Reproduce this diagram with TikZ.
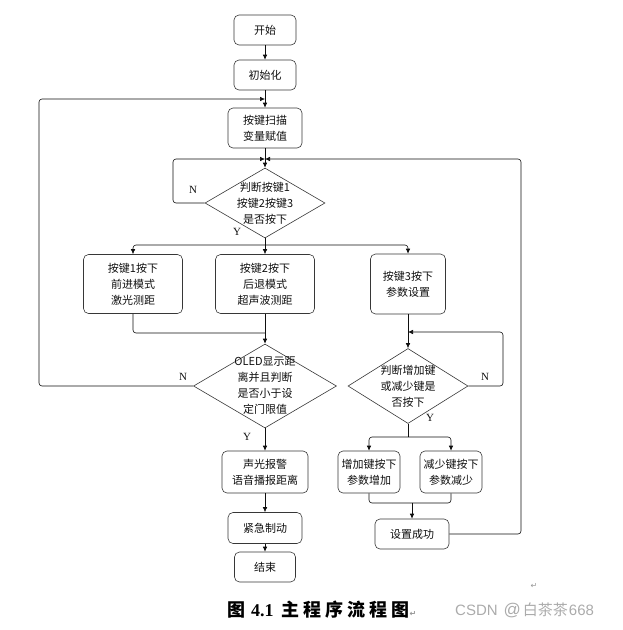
\documentclass[tikz,border=0pt]{standalone}
\usepackage{fontspec}
\setmainfont{Liberation Serif}
\newfontfamily\cjk{Noto Sans CJK SC}
\newfontfamily\wmfont{Liberation Sans}
\newfontfamily\symfont{DejaVu Sans}
\usetikzlibrary{shapes.geometric,arrows.meta}

\begin{document}
\begin{tikzpicture}[x=1pt,y=-1pt,
	box/.style={draw=boxgray, line width=0.6pt, rounded corners=5pt, inner sep=0, align=center, text=txtblack, font=\cjk\fontsize{11}{16}\selectfont},
	decision/.style={diamond, draw=boxgray, line width=0.6pt, inner sep=0},
	dtext/.style={align=center, inner sep=0, text=txtblack, font=\cjk\fontsize{11}{16}\selectfont},
	yn/.style={text=txtblack, font=\fontsize{11}{12}\selectfont},
	line/.style={draw=txtblack, line width=0.6pt, rounded corners=3pt},
	arrow/.style={line, -{Latex[length=5pt,width=4.5pt]}}]
	\definecolor{boxgray}{RGB}{55,55,55}
	\definecolor{txtblack}{RGB}{15,15,15}
	\definecolor{markgray}{RGB}{150,150,150}

	\useasboundingbox (0,0) rectangle (622,630);

	% main column
	\node[box, minimum width=62, minimum height=30] (start) at (265,30) {开始};
	\node[box, minimum width=62, minimum height=30] (init) at (265,75) {初始化};
	\node[box, minimum width=74, minimum height=40] (scan) at (265,128) {按键扫描\\变量赋值};
	\node[decision, minimum width=120, minimum height=70,
		label={[dtext]center:判断按键1\\按键2按键3\\是否按下}] (d1) at (265,203) {};

	\node[box, minimum width=99, minimum height=59] (k1) at (133,284) {按键1按下\\前进模式\\激光测距};
	\node[box, minimum width=99, minimum height=59] (k2) at (265,284) {按键2按下\\后退模式\\超声波测距};
	\node[box, minimum width=75, minimum height=60] (k3) at (408,284) {按键3按下\\参数设置};

	\node[decision, minimum width=143, minimum height=84,
		label={[dtext]center:OLED显示距\\离并且判断\\是否小于设\\定门限值}] (d2) at (265,386) {};
	\node[box, minimum width=86, minimum height=42] (alarm) at (265,472) {声光报警\\语音播报距离};
	\node[box, minimum width=74, minimum height=31] (brake) at (265,528) {紧急制动};
	\node[box, minimum width=61, minimum height=30] (stop) at (265,567) {结束};

	% parameter column
	\node[decision, minimum width=120, minimum height=75,
		label={[dtext]center:判断增加键\\或减少键是\\否按下}] (d3) at (408,386) {};
	\node[box, minimum width=62, minimum height=42] (inc) at (369,472) {增加键按下\\参数增加};
	\node[box, minimum width=62, minimum height=42] (dec) at (451,472) {减少键按下\\参数减少};
	\node[box, minimum width=74, minimum height=30] (done) at (412,534) {设置成功};

	% junctions
	\coordinate (top) at (265,99);
	\coordinate (jn) at (265,159);
	\coordinate (b1) at (265,245);
	\coordinate (m1) at (265,333);
	\coordinate (n1) at (173,159);
	\coordinate (l1) at (39,99);
	\coordinate (r1) at (521,159);
	\coordinate (r3) at (503,332);
	\coordinate (t3) at (408,332);
	\coordinate (b3) at (408,437);
	\coordinate (m3) at (412,503);

	\draw[arrow] (start) -- (init);
	\draw[arrow] (init) -- (scan);
	\draw[arrow] (scan) -- (d1);
	\draw[arrow] (d1.west) -| (n1) -- (jn);
	\draw[line] (d1.south) -- (b1);
	\draw[arrow] (b1) -| (k1.north);
	\draw[arrow] (b1) -- (k2);
	\draw[arrow] (b1) -| (k3.north);

	\draw[line] (k1.south) |- (m1);
	\draw[arrow] (k2) -- (d2);
	\draw[arrow] (d2.west) -| (l1) -- (top);
	\draw[arrow] (d2) -- (alarm);
	\draw[arrow] (alarm) -- (brake);
	\draw[arrow] (brake) -- (stop);

	\draw[arrow] (k3) -- (d3);
	\draw[arrow] (d3.east) -| (r3) -- (t3);
	\draw[line] (d3.south) -- (b3);
	\draw[arrow] (b3) -| (inc.north);
	\draw[arrow] (b3) -| (dec.north);
	\draw[line] (inc.south) |- (m3);
	\draw[line] (dec.south) |- (m3);
	\draw[arrow] (m3) -- (done);
	\draw[arrow] (done.east) -| (r1) -- (jn);

	% Y / N labels
	\node[yn] (n1lab) at (193,190) {N};
	\node[yn] (y1lab) at (237,232) {Y};
	\node[yn] (n2lab) at (183,377) {N};
	\node[yn] (y2lab) at (247,437) {Y};
	\node[yn] (n3lab) at (485,377) {N};
	\node[yn] (y3lab) at (430,418) {Y};

	% caption
	\node[anchor=west, inner sep=0, font=\fontsize{18}{20}\selectfont\bfseries] (cap) at (227,610)
		{{\cjk 图}\hspace{6pt}4.1\hspace{8pt}{\cjk 主\hspace{4pt}程\hspace{4pt}序\hspace{4pt}流\hspace{4pt}程\hspace{4pt}图}{\symfont\fontsize{8}{8}\selectfont\color{markgray}↵}};
	\node[inner sep=0, text=markgray, font=\symfont\fontsize{8}{8}\selectfont] (ret) at (534,586) {↵};
	\node[anchor=west, inner sep=0, text=markgray!80, font=\wmfont\fontsize{15}{16}\selectfont] (mark) at (455,610) {CSDN\hspace{6pt}{\fontsize{17}{16}\selectfont @}\hspace{2pt}{\cjk 白茶茶}\hspace{1pt}668};
\end{tikzpicture}
\end{document}
